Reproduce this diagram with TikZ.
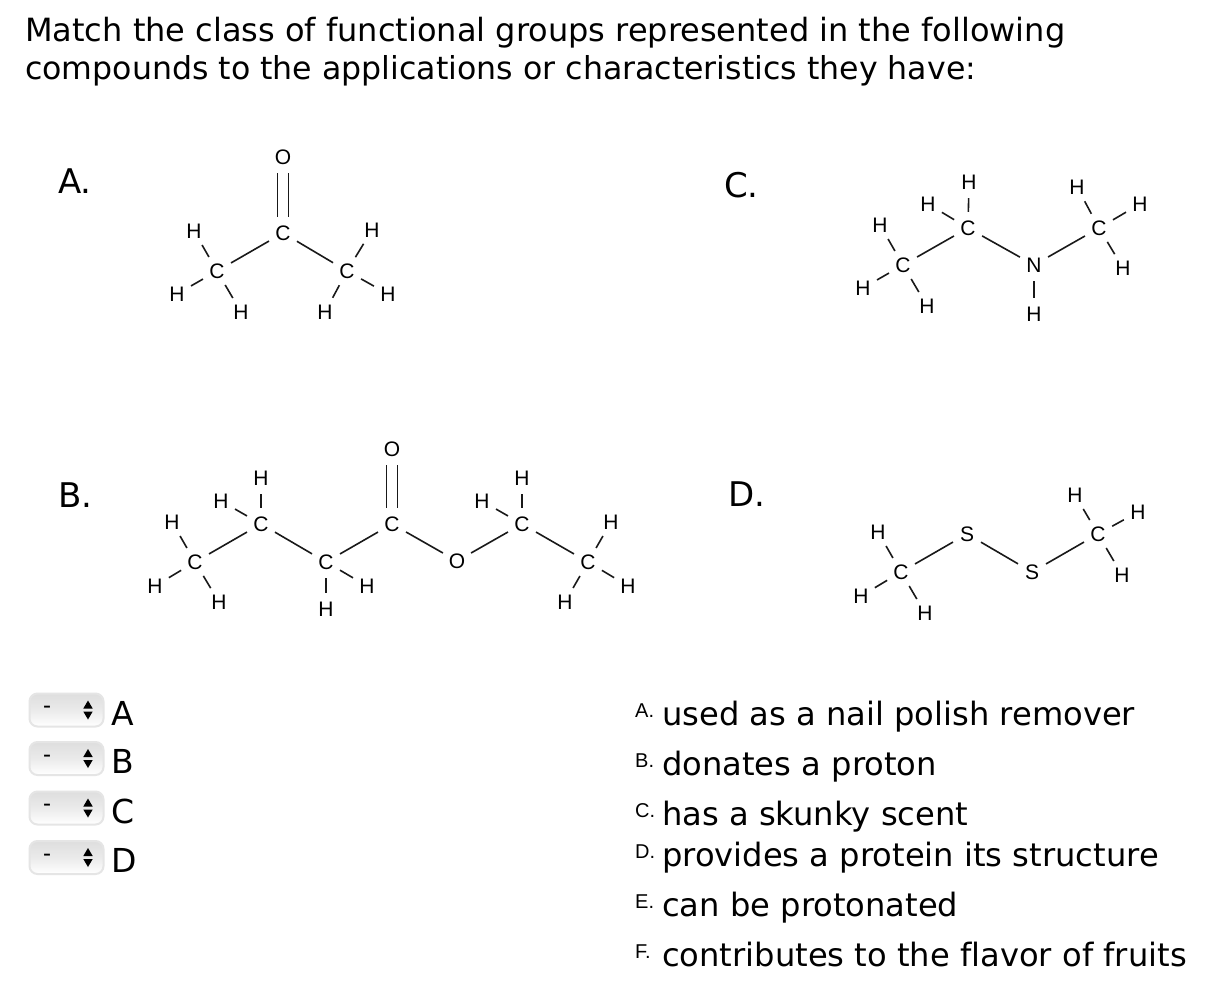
\documentclass[tikz,border=0pt]{standalone}
\usepackage{fontspec}
\setmainfont{DejaVu Sans}[Ligatures=NoCommon]
\newfontfamily\chem{Liberation Sans}
\tikzset{
  x=1pt,y=-1pt,
  atom/.style={circle,minimum size=32pt,inner sep=0pt,font=\chem\fontsize{21}{21}\selectfont},
  bond/.style={line width=1.6pt,color=black!90},
  prompt/.style={anchor=base west,inner sep=0pt,font=\fontsize{32}{32}\selectfont},
  promptb/.style={anchor=base west,inner sep=0pt,font=\fontsize{31.6}{32}\selectfont},
  head/.style={anchor=base west,inner sep=0pt,font=\fontsize{34}{34}\selectfont},
  opt/.style={anchor=base west,inner sep=0pt,font=\fontsize{32.15}{32}\selectfont},
  optkey/.style={anchor=base west,inner sep=0pt,font=\chem\fontsize{20}{20}\selectfont},
  selbox/.style={rounded corners=8pt,draw=black!10,line width=2pt,top color=black!13,bottom color=white,middle color=black!8,shading angle=0,minimum width=74pt,minimum height=33pt,inner sep=0pt},
  dashlabel/.style={inner sep=0pt,font=\chem\fontsize{24}{24}\selectfont},
  sellabel/.style={anchor=base west,inner sep=0pt,font=\fontsize{33}{33}\selectfont}
}
\begin{document}
\begin{tikzpicture}
\useasboundingbox[fill=white] (0,0) rectangle (1226,986);
% question
\node[prompt] (q1) at (25,41) {Match the class of functional groups represented in the following};
\node[promptb] (q2) at (25,79) {compounds to the applications or characteristics they have:};
\node[head] (la) at (58,193) {A.};
\node[head] (lb) at (58,507) {B.};
\node[head] (lc) at (724,197) {C.};
\node[head] (ld) at (728,506) {D.};
% molecule A
\foreach \n/\t/\px/\py in {aO/O/283/157,aC/C/283/233,aL/C/217/271,aR/C/347/271,a1/H/194/231,a2/H/177/294,a3/H/241/312,a4/H/372/230,a5/H/388/294,a6/H/325/312}
  \node[atom] (\n) at (\px,\py) {\t};
\draw[bond] ([xshift=-5.5pt]aO.south) -- ([xshift=-5.5pt]aC.north);
\draw[bond] ([xshift=5.5pt]aO.south) -- ([xshift=5.5pt]aC.north);
\foreach \p/\q in {aC/aL,aC/aR,aL/a1,aL/a2,aL/a3,aR/a4,aR/a5,aR/a6}
  \draw[bond] (\p) -- (\q);
% molecule B
\foreach \n/\t/\px/\py in {bA/C/195/562,b1/H/172/522,b2/H/155/586,b3/H/219/602,bB/C/261/524,b4/H/261/478,b5/H/221/501,bC/C/326/562,b6/H/367/586,b7/H/326/609,bD/C/392/524,bO/O/392/449,bE/O/457/561,bF/C/522/524,b8/H/522/478,b9/H/482/501,bG/C/588/562,b10/H/611/522,b11/H/628/586,b12/H/565/602}
  \node[atom] (\n) at (\px,\py) {\t};
\draw[bond] ([xshift=-5.5pt]bO.south) -- ([xshift=-5.5pt]bD.north);
\draw[bond] ([xshift=5.5pt]bO.south) -- ([xshift=5.5pt]bD.north);
\foreach \p/\q in {bA/b1,bA/b2,bA/b3,bA/bB,bB/b4,bB/b5,bB/bC,bC/b6,bC/b7,bC/bD,bD/bE,bE/bF,bF/b8,bF/b9,bF/bG,bG/b10,bG/b11,bG/b12}
  \draw[bond] (\p) -- (\q);
% molecule C
\foreach \n/\t/\px/\py in {cA/C/903/265,c1/H/880/225,c2/H/863/288,c3/H/927/306,cB/C/968/228,c4/H/969/182,c5/H/928/204,cN/N/1034/265,c6/H/1034/314,cC/C/1099/228,c7/H/1077/187,c8/H/1140/204,c9/H/1123/268}
  \node[atom] (\n) at (\px,\py) {\t};
\foreach \p/\q in {cA/c1,cA/c2,cA/c3,cA/cB,cB/c4,cB/c5,cB/cN,cN/c6,cN/cC,cC/c7,cC/c8,cC/c9}
  \draw[bond] (\p) -- (\q);
% molecule D
\foreach \n/\t/\px/\py in {dA/C/901/572,d1/H/878/532,d2/H/861/596,d3/H/925/613,dS/S/967/534,dT/S/1032/572,dB/C/1098/534,d4/H/1075/495,d5/H/1138/512,d6/H/1122/575}
  \node[atom] (\n) at (\px,\py) {\t};
\foreach \p/\q in {dA/d1,dA/d2,dA/d3,dA/dS,dS/dT,dT/dB,dB/d4,dB/d5,dB/d6}
  \draw[bond] (\p) -- (\q);
% selects
\foreach \n/\t/\py in {sa/A/710,sb/B/758.5,sc/C/808,sd/D/857.5}{
  \node[selbox] (\n) at (66.5,\py) {};
  \node[dashlabel] (\n d) at (47,\py) {-};
  \fill (88,\py-9.5) -- (92.7,\py-1.5) -- (83.3,\py-1.5) -- cycle;
  \fill (88,\py+9.5) -- (92.7,\py+1.5) -- (83.3,\py+1.5) -- cycle;
  \node[sellabel] (\n t) at (111,\py+15) {\t};
}
% options
\foreach \n/\k/\t/\py in {oa/A./used as a nail polish remover/725,ob/B./donates a proton/775,oc/C./has a skunky scent/825,od/D./provides a protein its structure/866,oe/E./can be protonated/916,of/F./contributes to the flavor of fruits/966}{
  \node[optkey] (\n k) at (635,\py-8) {\k};
  \node[opt] (\n) at (662,\py) {\t};
}
\end{tikzpicture}
\end{document}
